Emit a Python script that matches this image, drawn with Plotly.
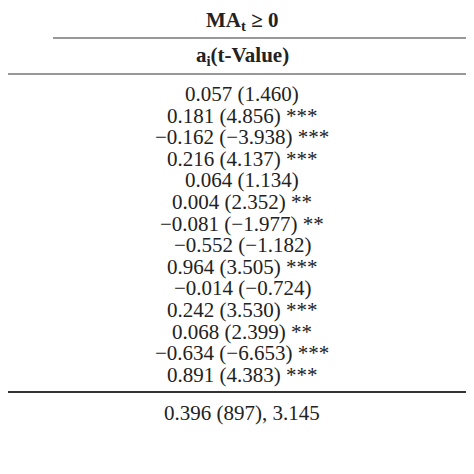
import plotly.graph_objects as go

title = "<b>MA<sub>t</sub> ≥ 0</b>"
header = "<b>a<sub>i</sub>(t-Value)</b>"
coefs = ["0.057", "0.181", "−0.162", "0.216", "0.064", "0.004", "−0.081",
         "−0.552", "0.964", "−0.014", "0.242", "0.068", "−0.634", "0.891"]
tvals = ["1.460", "4.856", "−3.938", "4.137", "1.134", "2.352", "−1.977",
         "−1.182", "3.505", "−0.724", "3.530", "2.399", "−6.653", "4.383"]
stars = ["", "***", "***", "***", "", "**", "**", "", "***", "", "***", "**", "***", "***"]
footer = "0.396 (897), 3.145"

FONT = dict(family="Liberation Serif, DejaVu Serif, serif", size=21, color="#222")
CX = 234

fig = go.Figure()
fig.update_layout(
    width=474, height=474, margin=dict(l=0, r=0, t=0, b=0),
    paper_bgcolor="white", plot_bgcolor="white", showlegend=False,
    xaxis=dict(range=[0, 474], visible=False, fixedrange=True),
    yaxis=dict(range=[474, 0], visible=False, fixedrange=True),
)

def txt(s, y):
    fig.add_annotation(x=CX, y=y, xref="x", yref="y", text=s, showarrow=False,
                       font=FONT, xanchor="center", yanchor="middle")

txt(title, 13)
txt(header, 48)
for i, (c, t, s) in enumerate(zip(coefs, tvals, stars)):
    label = f"{c} ({t})" + (f" {s}" if s else "")
    txt(label, 86 + i * 21.6)
txt(footer, 405)

for x0, y, w in [(45, 30, 1.2), (0, 66, 1.2), (0, 384, 1.8)]:
    fig.add_shape(type="line", x0=x0, x1=474, y0=y, y1=y, xref="x", yref="y",
                  line=dict(color="#333", width=w))

fig.write_html("out.html")
